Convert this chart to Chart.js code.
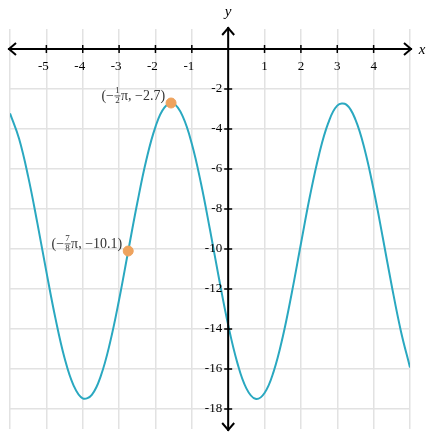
<!DOCTYPE html>
<html><head><meta charset="utf-8">
<script src="https://cdn.jsdelivr.net/npm/chart.js"></script>
<style>html,body{margin:0;padding:0;background:#fff}#w{width:436px;height:439px}</style>
</head><body><div id="w"><canvas id="c"></canvas></div>
<script>
const xs = [-6,-5.75,-5.5,-5.25,-5,-4.75,-4.5,-4.25,-4,-3.75,-3.5,-3.25,-3,-2.75,-2.5,-2.25,-2,-1.75,-1.5,-1.25,-1,-0.75,-0.5,-0.25,0,0.25,0.5,0.75,1,1.25,1.5,1.75,2,2.25,2.5,2.75,3,3.25,3.5,3.75,4,4.25,4.5,4.75,5];
const ys = [-3.22,-4.49,-6.38,-8.68,-11.13,-13.47,-15.45,-16.83,-17.47,-17.29,-16.33,-14.69,-12.54,-10.11,-7.70,-5.54,-3.89,-2.92,-2.73,-3.37,-4.74,-6.70,-9.04,-11.50,-13.80,-15.68,-16.97,-17.49,-17.20,-16.13,-14.40,-12.19,-9.74,-7.34,-5.27,-3.71,-2.83,-2.78,-3.53,-5.00,-7.04,-9.41,-11.86,-14.11,-15.92];
const markX = [-1.5708, -2.7489];
const markY = [-2.7, -10.1];
const markLabels = [["1","2","2.7"],["7","8","10.1"]];
const xTicks = [-5,-4,-3,-2,-1,1,2,3,4];
const yTicks = [-2,-4,-6,-8,-10,-12,-14,-16,-18];

const FONT = '"Liberation Serif", "DejaVu Serif", serif';
const axesPlugin = {
  id:'axes',
  afterDatasetsDraw(chart){
    const {ctx, scales:{x,y}, chartArea:a} = chart;
    const x0 = x.getPixelForValue(0), y0 = y.getPixelForValue(0);
    ctx.save();
    ctx.strokeStyle='#000'; ctx.lineWidth=2;
    ctx.beginPath();
    ctx.moveTo(a.left-2,y0); ctx.lineTo(a.right+2,y0);
    ctx.moveTo(x0,a.top-2); ctx.lineTo(x0,a.bottom+2);
    ctx.stroke();
    ctx.beginPath();
    ctx.moveTo(a.left+6,y0-6); ctx.lineTo(a.left-1,y0); ctx.lineTo(a.left+6,y0+6);
    ctx.moveTo(a.right-6,y0-6); ctx.lineTo(a.right+1,y0); ctx.lineTo(a.right-6,y0+6);
    ctx.moveTo(x0-6,a.top+6); ctx.lineTo(x0,a.top-1); ctx.lineTo(x0+6,a.top+6);
    ctx.moveTo(x0-6,a.bottom-6); ctx.lineTo(x0,a.bottom+1); ctx.lineTo(x0+6,a.bottom-6);
    ctx.stroke();
    ctx.lineWidth=1.5;
    ctx.fillStyle='#000'; ctx.font='13px '+FONT;
    ctx.textAlign='center'; ctx.textBaseline='middle';
    xTicks.forEach(v=>{const p=x.getPixelForValue(v);
      ctx.beginPath();ctx.moveTo(p,y0-4);ctx.lineTo(p,y0+4);ctx.stroke();
      ctx.fillText(String(v),p-(v<0?3:0),y0+18);});
    ctx.textAlign='right';
    yTicks.forEach(v=>{const p=y.getPixelForValue(v);
      ctx.beginPath();ctx.moveTo(x0-4,p);ctx.lineTo(x0+4,p);ctx.stroke();
      ctx.fillText(String(v),x0-6,p);});
    ctx.font='italic 15px '+FONT; ctx.textAlign='center';
    ctx.fillText('x',a.right+12,y0+1);
    ctx.fillText('y',x0,a.top-17);
    markX.forEach((mx,i)=>{
      const px=x.getPixelForValue(mx), py=y.getPixelForValue(markY[i]);
      const [n,d,val]=markLabels[i];
      ctx.font='14px '+FONT;
      const s1='(\u2212', s2='\u03c0, \u2212'+val+')';
      const w1=ctx.measureText(s1).width, w3=ctx.measureText(s2).width, wf=7;
      let sx=px-6-(w1+wf+w3);
      ctx.fillStyle='#333'; ctx.textAlign='left';
      ctx.fillText(s1,sx,py-7);
      ctx.font='9px '+FONT; ctx.textAlign='center';
      ctx.fillText(n,sx+w1+wf/2,py-12); ctx.fillText(d,sx+w1+wf/2,py-2);
      ctx.fillRect(sx+w1+0.5,py-7.5,wf-1,0.8);
      ctx.font='14px '+FONT; ctx.textAlign='left';
      ctx.fillText(s2,sx+w1+wf,py-7);
    });
    ctx.restore();
  }
};
new Chart(document.getElementById('c'),{
  type:'scatter',
  data:{datasets:[
    {data:markX.map((v,i)=>({x:v,y:markY[i]})),showLine:false,pointRadius:5,pointHoverRadius:5,backgroundColor:'#eea35e',borderColor:'#eea35e',order:0},
    {data:xs.map((v,i)=>({x:v,y:ys[i]})),showLine:true,borderColor:'#2aa8c0',borderWidth:2,pointRadius:0,tension:0.4,order:1}
  ]},
  options:{responsive:true,maintainAspectRatio:false,animation:false,
    layout:{padding:{left:10,right:26,top:29,bottom:10}},
    plugins:{legend:{display:false},tooltip:{enabled:false}},
    scales:{
      x:{type:'linear',min:-6,max:5,ticks:{display:false,stepSize:1},grid:{color:'#e2e2e2',lineWidth:1.5,drawTicks:false},border:{display:false}},
      y:{type:'linear',min:-19,max:1,ticks:{display:false,stepSize:2},grid:{color:'#e2e2e2',lineWidth:1.5,drawTicks:false},border:{display:false},afterBuildTicks(s){s.ticks=[-18,-16,-14,-12,-10,-8,-6,-4,-2,0].map(v=>({value:v}));}}
    }},
  plugins:[axesPlugin]
});
</script></body></html>
